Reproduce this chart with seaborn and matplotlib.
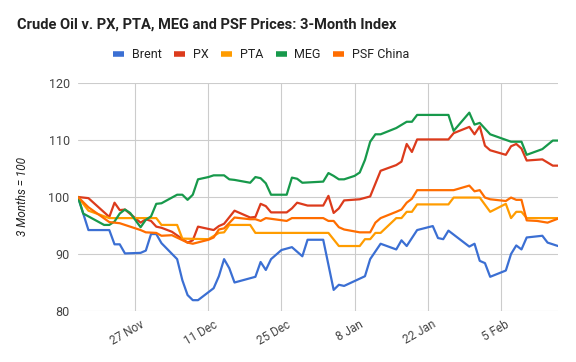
import matplotlib
matplotlib.use("Agg")
import matplotlib.pyplot as plt
from matplotlib.lines import Line2D
from matplotlib.transforms import ScaledTranslation
import pandas as pd
import seaborn as sns

# ---------------- data ----------------
title = "Crude Oil v. PX, PTA, MEG and PSF Prices: 3-Month Index"
y_label = "3 Months = 100"
series_names = ["Brent", "PX", "PTA", "MEG", "PSF China"]
colors = ["#3b6fd3", "#dc3b1c", "#ff9c00", "#17994b", "#ff6d00"]

brent_dates = ["2017-11-16", "2017-11-18", "2017-11-22", "2017-11-23", "2017-11-24", "2017-11-25",
               "2017-11-28", "2017-11-29", "2017-11-30", "2017-12-01", "2017-12-02", "2017-12-05",
               "2017-12-06", "2017-12-07", "2017-12-08", "2017-12-09", "2017-12-12", "2017-12-13",
               "2017-12-14", "2017-12-15", "2017-12-16", "2017-12-20", "2017-12-21", "2017-12-22",
               "2017-12-23", "2017-12-25", "2017-12-27", "2017-12-29", "2017-12-30", "2018-01-02",
               "2018-01-04", "2018-01-05", "2018-01-06", "2018-01-10", "2018-01-11", "2018-01-13",
               "2018-01-16", "2018-01-17", "2018-01-18", "2018-01-20", "2018-01-23", "2018-01-24",
               "2018-01-25", "2018-01-26", "2018-01-30", "2018-01-31", "2018-02-01", "2018-02-02",
               "2018-02-03", "2018-02-06", "2018-02-07", "2018-02-08", "2018-02-09", "2018-02-10",
               "2018-02-13", "2018-02-14", "2018-02-16"]
brent_values = [100.0, 94.2, 94.2, 91.7, 91.7, 90.1,
                90.2, 90.6, 93.5, 93.5, 91.9, 89.1,
                85.4, 82.8, 81.9, 81.9, 84.0, 86.1,
                89.1, 87.5, 85.0, 86.0, 88.6, 87.2,
                89.1, 90.7, 91.2, 89.6, 92.5, 92.5,
                83.7, 84.6, 84.4, 86.1, 89.1, 91.8,
                90.8, 92.4, 91.4, 94.2, 94.9, 92.8,
                92.6, 94.1, 91.3, 91.8, 88.8, 88.4,
                86.0, 87.1, 90.0, 91.5, 90.8, 92.9,
                93.2, 92.0, 91.4]

px_dates = ["2017-11-16", "2017-11-18", "2017-11-22", "2017-11-23", "2017-11-24", "2017-11-25",
            "2017-11-28", "2017-11-29", "2017-11-30", "2017-12-01", "2017-12-02", "2017-12-04",
            "2017-12-07", "2017-12-08", "2017-12-09", "2017-12-12", "2017-12-13", "2017-12-14",
            "2017-12-16", "2017-12-19", "2017-12-20", "2017-12-21", "2017-12-22", "2017-12-23",
            "2017-12-26", "2017-12-27", "2017-12-28", "2017-12-30", "2018-01-02", "2018-01-03",
            "2018-01-04", "2018-01-05", "2018-01-06", "2018-01-09", "2018-01-11", "2018-01-13",
            "2018-01-16", "2018-01-17", "2018-01-18", "2018-01-19", "2018-01-20", "2018-01-26",
            "2018-01-27", "2018-01-30", "2018-01-31", "2018-02-01", "2018-02-02", "2018-02-03",
            "2018-02-06", "2018-02-07", "2018-02-08", "2018-02-09", "2018-02-10", "2018-02-13",
            "2018-02-15", "2018-02-16"]
px_values = [100.0, 99.8, 96.5, 99.0, 97.7, 97.8,
             95.5, 96.1, 95.8, 94.8, 94.6, 93.9,
             92.0, 92.4, 94.8, 94.2, 94.9, 95.3,
             97.6, 96.4, 96.5, 98.8, 98.4, 97.3,
             97.3, 98.0, 99.0, 98.5, 98.5, 100.2,
             97.2, 98.0, 99.4, 99.6, 100.1, 104.6,
             105.6, 106.2, 109.3, 107.9, 110.1, 110.1,
             111.2, 112.3, 111.0, 112.4, 109.0, 108.2,
             107.4, 108.9, 109.3, 108.5, 106.4, 106.6,
             105.5, 105.5]

pta_dates = ["2017-11-16", "2017-11-18", "2017-11-22", "2017-12-01", "2017-12-02", "2017-12-05",
             "2017-12-06", "2017-12-11", "2017-12-13", "2017-12-14", "2017-12-15", "2017-12-19",
             "2017-12-20", "2018-01-03", "2018-01-05", "2018-01-09", "2018-01-10", "2018-01-11",
             "2018-01-12", "2018-01-13", "2018-01-16", "2018-01-17", "2018-01-18", "2018-01-19",
             "2018-01-20", "2018-01-26", "2018-01-27", "2018-02-01", "2018-02-03", "2018-02-06",
             "2018-02-07", "2018-02-08", "2018-02-09", "2018-02-10", "2018-02-16"]
pta_values = [100.0, 97.6, 96.3, 96.3, 95.1, 95.1,
              92.7, 92.6, 93.7, 93.8, 95.1, 95.1,
              93.7, 93.7, 91.4, 91.4, 92.6, 92.6,
              93.7, 93.7, 96.3, 96.3, 97.4, 97.4,
              98.7, 98.7, 99.9, 99.9, 97.4, 98.8,
              96.3, 97.4, 97.4, 96.3, 96.3]

meg_dates = ["2017-11-16", "2017-11-17", "2017-11-21", "2017-11-22", "2017-11-23", "2017-11-24",
             "2017-11-25", "2017-11-26", "2017-11-28", "2017-11-29", "2017-11-30", "2017-12-01",
             "2017-12-02", "2017-12-05", "2017-12-06", "2017-12-07", "2017-12-08", "2017-12-09",
             "2017-12-11", "2017-12-12", "2017-12-14", "2017-12-15", "2017-12-16", "2017-12-19",
             "2017-12-20", "2017-12-21", "2017-12-22", "2017-12-23", "2017-12-26", "2017-12-27",
             "2017-12-28", "2017-12-29", "2018-01-02", "2018-01-03", "2018-01-04", "2018-01-05",
             "2018-01-06", "2018-01-08", "2018-01-09", "2018-01-10", "2018-01-11", "2018-01-12",
             "2018-01-13", "2018-01-16", "2018-01-18", "2018-01-19", "2018-01-20", "2018-01-26",
             "2018-01-27", "2018-01-30", "2018-01-31", "2018-02-01", "2018-02-03", "2018-02-07",
             "2018-02-09", "2018-02-10", "2018-02-13", "2018-02-15", "2018-02-16"]
meg_values = [100.0, 97.1, 95.1, 95.1, 95.7, 97.1,
              97.8, 97.2, 94.7, 96.0, 96.6, 98.8,
              98.9, 100.4, 100.4, 99.5, 100.4, 103.1,
              103.5, 103.8, 103.8, 103.1, 103.0, 102.5,
              103.5, 103.3, 102.4, 100.4, 100.4, 103.4,
              103.2, 102.5, 102.7, 104.2, 103.7, 103.1,
              103.1, 103.7, 104.3, 106.5, 109.7, 111.0,
              111.0, 112.1, 113.2, 113.2, 114.4, 114.4,
              111.6, 114.8, 112.7, 113.0, 111.0, 109.7,
              109.7, 107.4, 108.4, 109.9, 109.9]

psf_dates = ["2017-11-16", "2017-11-18", "2017-11-22", "2017-11-24", "2017-11-28", "2017-11-29",
             "2017-12-01", "2017-12-02", "2017-12-04", "2017-12-07", "2017-12-08", "2017-12-11",
             "2017-12-12", "2017-12-13", "2017-12-14", "2017-12-16", "2017-12-19", "2017-12-20",
             "2017-12-21", "2017-12-22", "2017-12-26", "2017-12-27", "2018-01-02", "2018-01-03",
             "2018-01-04", "2018-01-05", "2018-01-06", "2018-01-09", "2018-01-11", "2018-01-12",
             "2018-01-13", "2018-01-16", "2018-01-17", "2018-01-18", "2018-01-19", "2018-01-20",
             "2018-01-27", "2018-01-30", "2018-01-31", "2018-02-01", "2018-02-02", "2018-02-03",
             "2018-02-06", "2018-02-07", "2018-02-08", "2018-02-09", "2018-02-10", "2018-02-12",
             "2018-02-14", "2018-02-16"]
psf_values = [100.0, 98.2, 95.6, 95.4, 94.2, 93.8,
              93.7, 93.2, 93.3, 92.0, 91.8, 92.5,
              92.9, 94.3, 94.5, 96.4, 96.1, 96.1,
              95.8, 96.3, 95.8, 96.3, 96.3, 95.8,
              95.8, 94.7, 94.3, 93.8, 93.8, 95.5,
              96.3, 97.4, 97.8, 99.0, 99.7, 101.2,
              101.2, 102.0, 101.0, 101.2, 99.9, 99.6,
              99.3, 99.9, 99.5, 99.5, 95.9, 95.8,
              95.5, 96.2]

x_start, x_end = "2017-11-16", "2018-02-16"
tick_dates = ["2017-11-27", "2017-12-11", "2017-12-25", "2018-01-08", "2018-01-22", "2018-02-05"]
tick_labels = ["27 Nov", "11 Dec", "25 Dec", "8 Jan", "22 Jan", "5 Feb"]
y_ticks = [80, 90, 100, 110, 120]

# ---------------- build long table ----------------
frames = []
for name, d, v in [("Brent", brent_dates, brent_values), ("PX", px_dates, px_values),
                   ("PTA", pta_dates, pta_values), ("MEG", meg_dates, meg_values),
                   ("PSF China", psf_dates, psf_values)]:
    frames.append(pd.DataFrame({"date": pd.to_datetime(d), "value": v, "series": name}))
df = pd.concat(frames, ignore_index=True)

# ---------------- plot ----------------
sns.set_theme(style="white")
plt.rcParams["font.family"] = ["Roboto", "DejaVu Sans"]

fig = plt.figure(figsize=(5.76, 3.62), dpi=100)
ax = fig.add_axes([78 / 576, 1 - 311 / 362, 480 / 576, 228 / 362])

palette = dict(zip(series_names, colors))
sns.lineplot(data=df, x="date", y="value", hue="series", hue_order=series_names,
             palette=palette, estimator=None, sort=True, linewidth=1.6, ax=ax, legend=False,
             zorder=3)

ax.set_xlim(pd.Timestamp(x_start), pd.Timestamp(x_end))
ax.set_ylim(80, 120)
ax.set_yticks(y_ticks)
ax.set_yticklabels([str(t) for t in y_ticks], fontsize=9, color="#444444")
ax.set_xticks(pd.to_datetime(tick_dates))
ax.set_xticklabels(tick_labels, fontsize=8.5, color="#444444", rotation=30,
                   ha="right", va="top", rotation_mode="anchor")
ax.tick_params(axis="x", length=0, pad=5)
ax.tick_params(axis="y", length=0, pad=6)
shift = ScaledTranslation(0.045, 0, fig.dpi_scale_trans)
for lbl in ax.get_xticklabels():
    lbl.set_transform(lbl.get_transform() + shift)

ax.grid(True, color="#cccccc", linewidth=0.8, zorder=0)
for s in ax.spines.values():
    s.set_visible(False)
ax.set_xlabel("")
ax.set_ylabel(y_label, fontsize=8.5, style="italic", color="#222222", labelpad=14)

fig.text(17 / 576, 1 - 25 / 362, title, fontsize=10.5, fontweight="bold",
         color="#222222", ha="left", va="center")

handles = [Line2D([0], [0], color=c, linewidth=4, solid_capstyle="butt") for c in colors]
fig.legend(handles, series_names, loc="center", bbox_to_anchor=(261 / 576, 1 - 55 / 362),
           ncol=5, frameon=False, fontsize=9, handlelength=0.9, handletextpad=0.6,
           columnspacing=1.0, labelcolor="#222222")

fig.savefig("out.png", dpi=100)
